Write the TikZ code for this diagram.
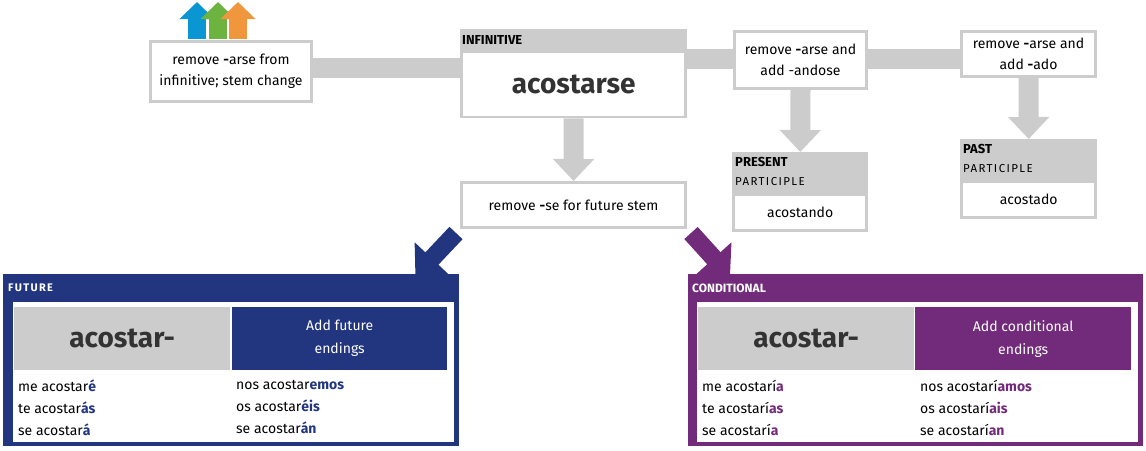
\documentclass[tikz,border=0pt]{standalone}
\usepackage{fontspec}
\setmainfont{Fira Sans}
\usetikzlibrary{arrows.meta,calc}
\definecolor{boxg}{HTML}{CCCCCC}
\definecolor{fblue}{HTML}{22367F}
\definecolor{cpurp}{HTML}{722A7A}
\definecolor{ublue}{HTML}{0A96D2}
\definecolor{ugreen}{HTML}{6DB33F}
\definecolor{uorange}{HTML}{F0963C}
\newcommand{\fe}[1]{{\color{fblue}\bfseries #1}}
\newcommand{\ce}[1]{{\color{cpurp}\bfseries #1}}
\tikzset{
  box/.style={draw=boxg,line width=3pt,fill=white,align=center,
    font=\fontsize{14}{21}\selectfont,inner sep=0pt},
  plate/.style={fill=#1,anchor=north west,inner sep=0pt},
  bar/.style={draw=boxg,line width=20pt},
  downarrow/.style={draw=boxg,line width=20pt,-{Triangle[width=40pt,length=22pt]}},
  bigarrow/.style={draw=#1,line width=18pt,-{Triangle[width=46pt,length=24pt]}},
  uparrow/.style={draw=#1,line width=18pt,-{Triangle[width=34pt,length=17pt]}},
  tag/.style={anchor=north west,inner sep=0pt,font=\fontsize{13}{14}\selectfont\bfseries},
  small/.style={anchor=north west,inner sep=0pt,
    font=\fontsize{11.5}{12}\selectfont\addfontfeature{LetterSpace=12}},
  rows/.style={anchor=north west,inner sep=0pt,align=left,
    font=\fontsize{14}{22}\selectfont},
  bigword/.style={text=black!80,font=\fontsize{28}{30}\selectfont\bfseries}
}
\begin{document}
\begin{tikzpicture}[x=1pt,y=1pt,yscale=-1]
\useasboundingbox (0,0) rectangle (1146,450);

% infinitive
\node[plate=boxg,minimum width=227,minimum height=89] (inf) at (460,29) {};
\node[tag] (inftag) at (462,35) {INFINITIVE};
\node[plate=white,minimum width=221,minimum height=63,bigword] (infw) at (463,53) {acostarse};

% step boxes
\node[box,minimum width=161,minimum height=60] (strip) at (231,71.5)
  {remove \textbf{-}arse from\\infinitive; stem change};
\node[box,minimum width=132,minimum height=57] (andose) at (800.5,60)
  {remove \textbf{-}arse and\\add -andose};
\node[box,minimum width=134,minimum height=45] (ado) at (1028.5,54)
  {remove \textbf{-}arse and\\add \textbf{-}ado};
\node[box,minimum width=224,minimum height=45] (stem) at (573.5,205)
  {remove \textbf{-}se for future stem};

% participles
\node[plate=boxg,minimum width=136,minimum height=80] (pres) at (732,152) {};
\node[tag] at (735,157) {PRESENT};
\node[small] at (735,177) {PARTICIPLE};
\node[plate=white,minimum width=130,minimum height=33,font=\fontsize{14}{16}\selectfont]
  (presw) at (735,196) {acostando};
\node[plate=boxg,minimum width=137,minimum height=80] (past) at (960,139) {};
\node[tag] at (963,144) {PAST};
\node[small] at (963,164) {PARTICIPLE};
\node[plate=white,minimum width=131,minimum height=33,font=\fontsize{14}{16}\selectfont]
  (pastw) at (963,183) {acostado};

% future
\node[plate=fblue,minimum width=456,minimum height=172] (future) at (3,274) {};
\node[small,text=white,font=\fontsize{11}{12}\selectfont\bfseries\addfontfeature{LetterSpace=12}]
  at (8,284) {FUTURE};
\node[plate=white,minimum width=441,minimum height=140] (futw) at (13,302) {};
\node[plate=boxg,minimum width=216,minimum height=63,bigword] (futstem) at (14,307) {acostar-};
\node[plate=fblue,minimum width=215,minimum height=63,text=white,align=center,
  font=\fontsize{14}{23}\selectfont] (futadd) at (232,307) {Add future\\endings};
\node[rows] (futl) at (18,380) {me acostar\fe{é}\\te acostar\fe{ás}\\se acostar\fe{á}};
\node[rows] (futr) at (236,380) {nos acostar\fe{emos}\\os acostar\fe{éis}\\se acostar\fe{án}};

% conditional
\node[plate=cpurp,minimum width=455,minimum height=172] (cond) at (688,274) {};
\node[tag,text=white,font=\fontsize{12}{12}\selectfont\bfseries]
  at (692,284) {CONDITIONAL};
\node[plate=white,minimum width=441,minimum height=140] (condw) at (697,302) {};
\node[plate=boxg,minimum width=216,minimum height=63,bigword] (condstem) at (698,307) {acostar-};
\node[plate=cpurp,minimum width=216,minimum height=63,text=white,align=center,
  font=\fontsize{14}{23}\selectfont] (condadd) at (915,307) {Add conditional\\endings};
\node[rows] (condl) at (702,380) {me acostarí\ce{a}\\te acostarí\ce{as}\\se acostarí\ce{a}};
\node[rows] (condr) at (920,380) {nos acostarí\ce{amos}\\os acostarí\ce{ais}\\se acostarí\ce{an}};

% connectors
\draw[bar] (strip.east |- 0,68) -- (inf.west |- 0,68);
\draw[bar] (inf.east |- 0,59) -- (andose.west |- 0,59);
\draw[bar] (andose.east |- 0,59) -- (ado.west |- 0,59);
\draw[downarrow] (andose.south) -- (pres.north);
\draw[downarrow] (ado.south) -- (past.north);
\draw[downarrow] (inf.south) -- (stem.north);
\draw[bigarrow=fblue] ($(stem.south west)+(-4,4)$) -- ($(future.north east)+(-44,2)$);
\draw[bigarrow=cpurp] ($(stem.south east)+(4,4)$) -- ($(cond.north west)+(42,2)$);

% three coloured arrows over the first box
\draw[uparrow=ublue] ($(strip.north)+(-34,-1)$) -- ($(strip.north)+(-34,-38)$);
\draw[uparrow=ugreen] ($(strip.north)+(-13,-1)$) -- ($(strip.north)+(-13,-38)$);
\draw[uparrow=uorange] ($(strip.north)+(7,-1)$) -- ($(strip.north)+(7,-38)$);
\end{tikzpicture}
\end{document}
